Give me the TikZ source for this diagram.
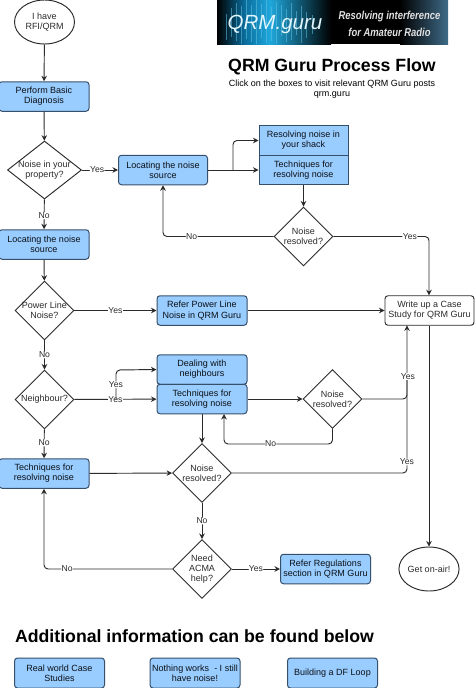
\documentclass[tikz,border=0pt]{standalone}
\usepackage{fontspec}
\setmainfont{Liberation Sans}
\usetikzlibrary{shapes.geometric,arrows.meta,calc}
\definecolor{boxfill}{HTML}{99CCFF}
\definecolor{ink}{HTML}{2B2B2B}
\definecolor{boxline}{HTML}{36506B}
\definecolor{bannerblue}{HTML}{0A6E9E}
\definecolor{bannerbright}{HTML}{1FA8DC}
\definecolor{bannerright}{HTML}{3F6B88}
\tikzset{
  every node/.style={font=\fontsize{9}{10.3}\selectfont,text=ink,align=center,inner sep=0pt},
  proc/.style={draw=boxline,line width=1pt,fill=boxfill,rounded corners=3pt,minimum width=90pt,minimum height=29.5pt,text=black!80!boxline},
  sqbox/.style={draw=boxline,line width=1pt,fill=boxfill,minimum width=89pt,minimum height=29.5pt,text=black!80!boxline},
  endbox/.style={draw=ink,line width=.95pt,fill=white,rounded corners=3pt,minimum width=89pt,minimum height=29.5pt},
  term/.style={draw=ink,line width=.95pt,fill=white,ellipse,minimum width=60pt,minimum height=44pt},
  dec/.style={draw=ink,line width=.95pt,fill=white,diamond,aspect=1,minimum size=59pt},
  widedec/.style={draw=ink,line width=.95pt,fill=white,diamond,aspect=1.276,minimum width=74pt,minimum height=58pt},
  conn/.style={draw=ink,line width=.95pt,-{Stealth[length=5.5pt,width=5.5pt]},rounded corners=4pt},
  plain/.style={draw=ink,line width=.95pt,rounded corners=4pt},
  lbl/.style={fill=white,inner sep=.4pt,font=\fontsize{8.6}{10}\selectfont},
}
\begin{document}
\begin{tikzpicture}[x=1pt,y=-1pt]
\useasboundingbox (0,0) rectangle (474,688);
% banner
\shade[left color=black,right color=bannerblue] (217,0) rectangle (245,44);
\shade[left color=bannerblue,right color=bannerbright] (245,0) rectangle (270,44);
\shade[left color=bannerbright,right color=black] (270,0) rectangle (331,44);
\fill[black] (331,0) rectangle (400,44);
\shade[left color=black,right color=bannerright] (400,0) rectangle (448,44);
\foreach \bx/\bt/\bb in {226/14/40,231/8/37,236/3/41,241/6/44,246/0/39,251/5/42,256/0/44,261/4/38,266/0/43,271/7/41,276/2/44,281/5/36,286/9/42,291/3/40,296/11/35,301/6/43,306/12/38,312/15/34}
  \draw[bannerbright!70!white,line width=.5pt,opacity=.55] (\bx,\bt) -- (\bx,\bb);
\node[font=\itshape\fontsize{20.5}{24}\selectfont,text=white!88!cyan] (bannerA) at (275,24) {QRM.guru};
\node[font=\itshape\bfseries\fontsize{11.5}{16.5}\selectfont,text=black!12,xscale=.82] (bannerB) at (389.5,24) {Resolving interference\\for Amateur Radio};
% titles
\node[font=\bfseries\fontsize{17.7}{20}\selectfont,text=black] (title) at (332,66.5) {QRM Guru Process Flow};
\node[font=\fontsize{9}{10.4}\selectfont,text=black] (sub) at (332,89) {Click on the boxes to visit relevant QRM Guru posts\\qrm.guru};
\node[font=\bfseries\fontsize{17.7}{20}\selectfont,text=black] (addl) at (194.5,636) {Additional information can be found below};
% nodes
\node[term] (start) at (44.5,22) {I have\\RFI/QRM};
\node[proc] (diag) at (44,96.5) {Perform Basic\\Diagnosis};
\node[widedec,label={[align=center]center:Noise in your\\property?}] (d1) at (44.5,170) {};
\node[proc,minimum width=89pt] (loc1) at (163,170) {Locating the noise\\source};
\node[sqbox] (shack) at (303.5,140.5) {Resolving noise in\\your shack};
\node[sqbox] (tech1) at (303.5,170) {Techniques for\\resolving noise};
\node[dec,label={[align=center]center:Noise\\resolved?}] (d2) at (303.5,236.5) {};
\node[proc] (loc2) at (44,244.5) {Locating the noise\\source};
\node[dec,label={[align=center]center:Power Line\\Noise?}] (d3) at (44.5,310.5) {};
\node[proc] (refpl) at (202,310.5) {Refer Power Line\\Noise in QRM Guru};
\node[endbox] (write) at (429.5,310.5) {Write up a Case\\Study for QRM Guru};
\node[dec,label={[align=center]center:Neighbour?}] (d4) at (44.5,399.5) {};
\node[proc] (deal) at (202,369.5) {Dealing with\\neighbours};
\node[proc] (tech2) at (202,399) {Techniques for\\resolving noise};
\node[dec,label={[align=center]center:Noise\\resolved?}] (d5) at (332.5,399) {};
\node[proc] (tech3) at (44,473.5) {Techniques for\\resolving noise};
\node[dec,label={[align=center]center:Noise\\resolved?}] (d6) at (202,473) {};
\node[dec,label={[align=center]center:Need\\ACMA\\help?}] (d7) at (202,569) {};
\node[proc] (refreg) at (325.5,569) {Refer Regulations\\section in QRM Guru};
\node[term] (onair) at (429,569) {Get on-air!};
\node[proc,minimum height=30pt] (b1) at (59.5,673) {Real world Case\\Studies};
\node[proc,minimum height=30pt] (b2) at (195,673) {Nothing works~ - I still\\have noise!};
\node[proc,minimum height=30pt] (b3) at (332.5,673) {Building a DF Loop};
% helper coordinates
\coordinate (j1) at (233,170);
\coordinate (j2) at (116,399.5);
\coordinate (j3) at (429,236.5);
\coordinate (j4) at (407,399);
\coordinate (j5) at (407,473);
% connectors
\draw[conn] (start) -- (diag);
\draw[conn] (diag) -- (d1);
\draw[conn] (d1) -- node[lbl,pos=.42]{Yes} (loc1);
\draw[conn] (d1) -- node[lbl,pos=.55]{No} (loc2);
\draw[conn] (loc1) -- (tech1);
\draw[conn] (j1) |- (shack);
\draw[conn] (tech1) -- (d2);
\draw[conn] (d2.west) -- node[lbl,pos=.74]{No} (loc1.south |- d2.west) -- (loc1);
\draw[conn] (d2.east) -- node[lbl,pos=.8]{Yes} (j3) -- (write.north -| j3);
\draw[conn] (loc2) -- (d3);
\draw[conn] (d3) -- node[lbl,pos=.5]{Yes} (refpl);
\draw[conn] (d3) -- node[lbl,pos=.5]{No} (d4);
\draw[conn] (refpl) -- (write);
\draw[conn] (d4) -- node[lbl,pos=.5]{Yes} (tech2);
\draw[conn] (j2) -- node[lbl,pos=.5]{Yes} ++(0,-29.5) -- (deal.west);
\draw[conn] (d4) -- node[lbl,pos=.47]{No} (tech3);
\draw[conn] (tech2) -- (d5);
\draw[conn] (tech2) -- (d6);
\draw[plain] (d5.east) -- (j4) -- (407,380);
\draw[conn] (d5.south) -- (d5.south |- 0,444) -- node[lbl,pos=.57]{No} (224,444) -- (224,414);
\draw[conn] (tech3) -- (d6);
\draw[conn] (d6.east) -- (j5) -- node[lbl,pos=.075]{Yes} (407,325.3);
\node[lbl] (y2) at (408,376.5) {Yes};
\draw[conn] (d6) -- node[lbl,pos=.5]{No} (d7);
\draw[conn] (d7.west) -- node[lbl,pos=.82]{No} (tech3.south |- d7.west) -- (tech3);
\draw[conn] (d7) -- node[lbl,pos=.5]{Yes} (refreg);
\draw[conn] (write.south -| onair) -- (onair);
\end{tikzpicture}
\end{document}
